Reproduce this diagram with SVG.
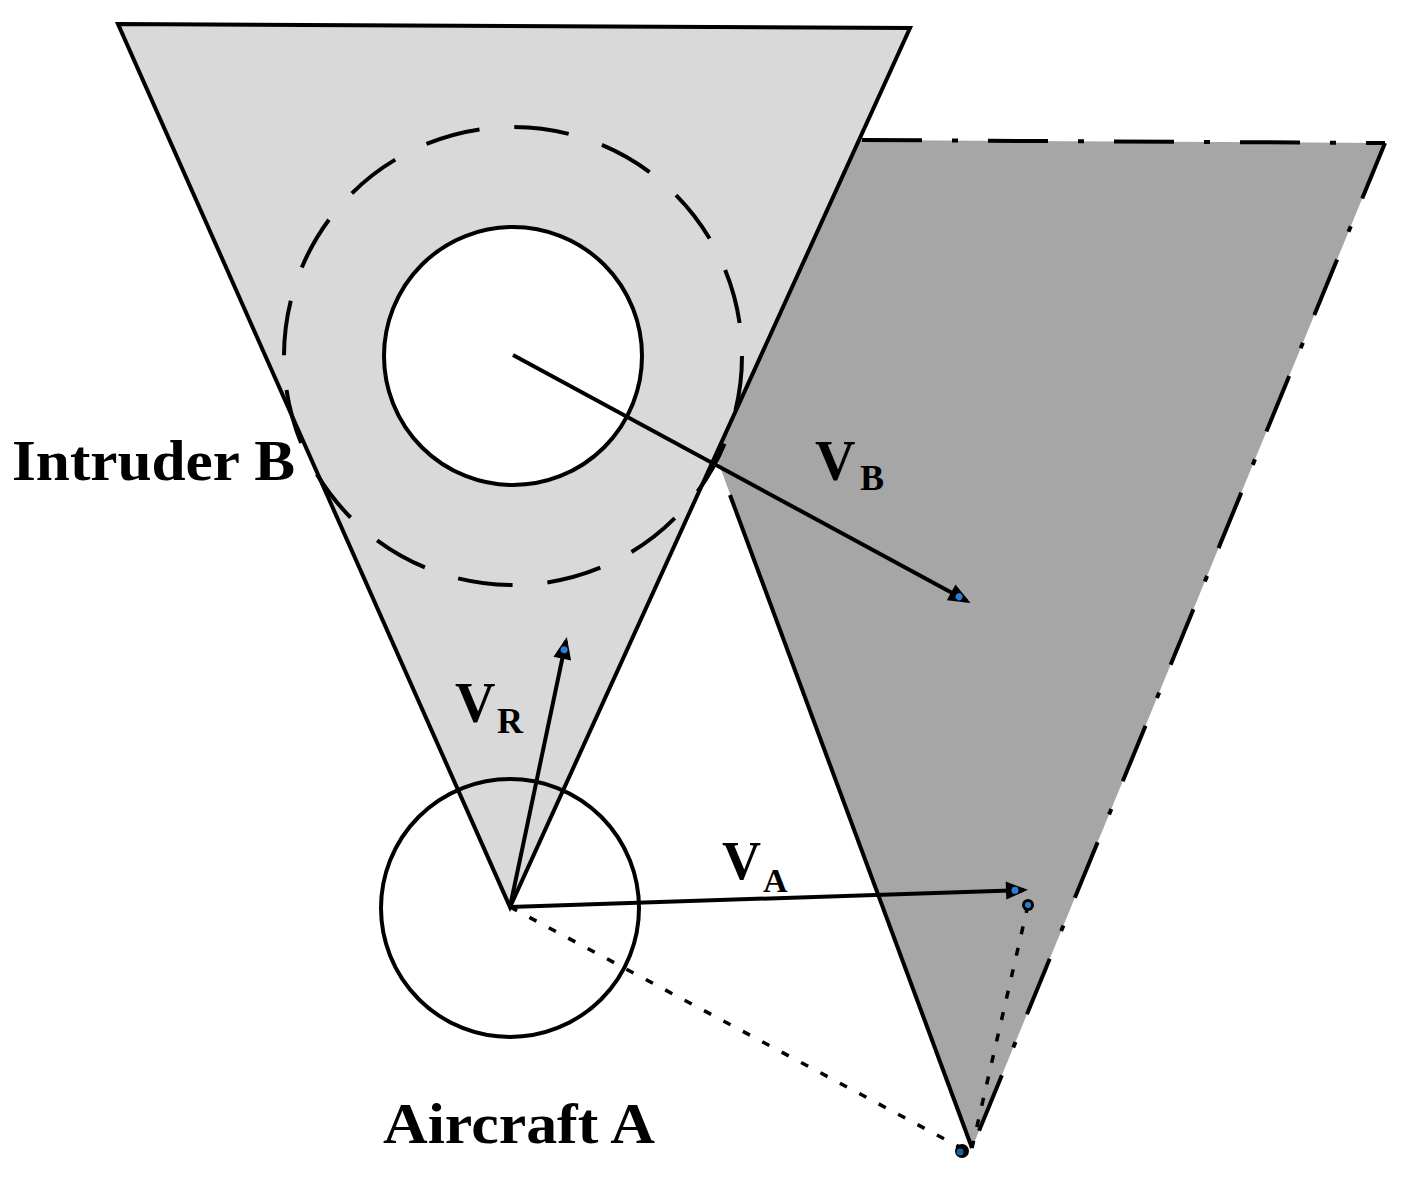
<svg xmlns="http://www.w3.org/2000/svg" width="1409" height="1193" viewBox="0 0 1409 1193">
<style>
.edge{stroke:#000;stroke-width:4;fill:none;stroke-linejoin:miter}
.cone{stroke:#000;stroke-width:4;fill:#d9d9d9;stroke-linejoin:miter}
.dashdot{stroke:#000;stroke-width:4;fill:none;stroke-dasharray:60 30 6 30}
.dot{stroke:#000;stroke-width:3.5;fill:none;stroke-dasharray:8 14}
.vec{stroke:#000;stroke-width:4;fill:none}
.lbl{font-family:"Liberation Serif","Times New Roman",serif;font-weight:bold;fill:#000}
</style>
<defs>
<linearGradient id="topfade" x1="0" x2="1" y1="0" y2="0">
<stop offset="0" stop-color="#222"/>
<stop offset="0.5" stop-color="#bbb"/>
<stop offset="1" stop-color="#f2f2f2"/>
</linearGradient>
<marker id="arr" markerUnits="userSpaceOnUse" markerWidth="28" markerHeight="24" refX="20" refY="12" orient="auto">
<polygon points="2,3 24,12 2,21" fill="#000"/>
<circle cx="11" cy="12" r="3.5" fill="#2a7fd4"/>
</marker>
</defs>

<g id="velocity-obstacle">
<polygon points="860,140 1385,143 972,1148 715.5,454.7" fill="#a6a6a6"/>
<line class="dashdot" x1="862" y1="140" x2="1385" y2="143"/>
<line class="dashdot" x1="1385" y1="143" x2="972" y2="1148"/>
<line class="edge" x1="730" y1="495" x2="972" y2="1148"/>
</g>

<g id="collision-cone">
<line x1="113" y1="20" x2="700" y2="20" stroke="url(#topfade)" stroke-width="5"/>
<polygon class="cone" points="118,24 910,28 510,907"/>
</g>

<g id="intruder-b">
<circle cx="513" cy="356" r="229" fill="none" stroke="#000" stroke-width="4" stroke-dasharray="55 35"/>
<circle cx="513" cy="356" r="129" fill="#fff" stroke="#000" stroke-width="4"/>
<text class="lbl" x="12" y="480" font-size="56" textLength="283" lengthAdjust="spacingAndGlyphs">Intruder B</text>
</g>

<g id="aircraft-a">
<circle cx="510" cy="908" r="129" fill="none" stroke="#000" stroke-width="4"/>
<text class="lbl" x="383" y="1143" font-size="58" textLength="272" lengthAdjust="spacingAndGlyphs">Aircraft A</text>
</g>

<g id="connectors">
<line class="dot" x1="510" y1="907" x2="965" y2="1150"/>
<line class="dot" x1="1028" y1="905" x2="972" y2="1148"/>
<line class="vec" x1="513" y1="355" x2="967" y2="601" marker-end="url(#arr)"/>
<line class="vec" x1="510" y1="907" x2="566" y2="641" marker-end="url(#arr)"/>
<line class="vec" x1="510" y1="907" x2="1024" y2="890" marker-end="url(#arr)"/>
<circle cx="1028" cy="905" r="6" fill="#000"/>
<circle cx="1028" cy="905" r="3" fill="#2a7fd4"/>
<circle cx="962" cy="1151" r="7" fill="#000"/>
<circle cx="960" cy="1152" r="3.5" fill="#1f5fa0"/>
</g>

<g id="labels">
<text class="lbl" x="815" y="480" font-size="56">V</text>
<text class="lbl" x="860" y="490" font-size="36">B</text>
<text class="lbl" x="455" y="722" font-size="56">V</text>
<text class="lbl" x="497" y="733" font-size="36">R</text>
<text class="lbl" x="722" y="879" font-size="54">V</text>
<text class="lbl" x="763" y="892" font-size="34">A</text>
</g>
</svg>
